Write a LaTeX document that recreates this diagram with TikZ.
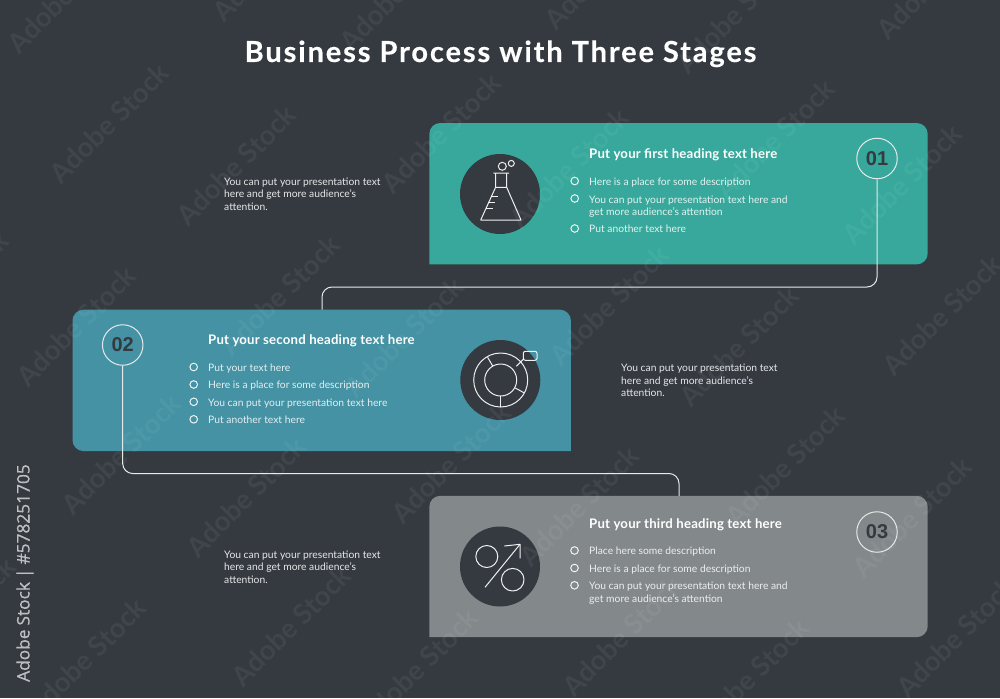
\documentclass[tikz,border=0pt]{standalone}
\usepackage{fontspec}
\setmainfont{Lato}
\newfontfamily\stockfont[WordSpace=0.9,FakeBold=0.35]{Open Sans}
\newfontfamily\numfont{Liberation Sans}
\definecolor{bgdark}{HTML}{353A41}
\definecolor{cardteal}{HTML}{37A89B}
\definecolor{cardblue}{HTML}{4492A3}
\definecolor{cardgrey}{HTML}{83888A}
\definecolor{linelight}{HTML}{E6EAEA}
\tikzset{
  x=1pt,y=-1pt,
  cardbox/.style={minimum width=498.4pt,minimum height=141.4pt,inner sep=0pt,outer sep=0pt},
  badge/.style={circle,draw=linelight,line width=1pt,minimum size=40.5pt,inner sep=0pt,text=bgdark,font=\numfont\bfseries\fontsize{20}{20}\selectfont},
  iconbg/.style={circle,fill=bgdark,minimum size=80pt,inner sep=0pt},
  heading/.style={anchor=base west,inner sep=0pt,yshift=-.4pt,text=white,font=\bfseries\fontsize{13.2}{15}\selectfont\addfontfeature{LetterSpace=1.5}},
  bodytext/.style={anchor=base west,inner sep=0pt,yshift=-.8pt,text=white,opacity=.86,align=left,font=\fontsize{10.3}{12.7}\selectfont},
  paratext/.style={bodytext,anchor=west,yshift=-.3pt},
  sidetext/.style={anchor=west,inner sep=0pt,text=white,opacity=.88,align=left,font=\fontsize{10.3}{12.6}\selectfont},
  bulletmark/.style={circle,draw=white,opacity=.9,line width=1pt,minimum size=7.6pt,inner sep=0pt},
  linkline/.style={draw=linelight,line width=1pt,rounded corners=10pt},
  iconline/.style={draw=white,opacity=.92,line width=1pt,line join=round},
  wmark/.style={rotate=45,text=white,opacity=.055,inner sep=0pt,font=\bfseries\fontsize{27.5}{27.5}\selectfont},
}
\begin{document}
\begin{tikzpicture}
\useasboundingbox (0,0) rectangle (1000,698);
\fill[bgdark] (0,0) rectangle (1000,698);

% cards
\node[cardbox] (card1) at (678.5,193.7) {};
\node[cardbox] (card2) at (321.7,380.4) {};
\node[cardbox] (card3) at (678.5,566.5) {};
\fill[cardteal] (card1.south west) [rounded corners=11pt] -- (card1.north west) -- (card1.north east) -- (card1.south east) [sharp corners] -- cycle;
\fill[cardblue] (card2.south east) [rounded corners=11pt] -- (card2.north east) -- (card2.north west) -- (card2.south west) [sharp corners] -- cycle;
\fill[cardgrey] (card3.south west) [rounded corners=11pt] -- (card3.north west) -- (card3.north east) -- (card3.south east) [sharp corners] -- cycle;

% badges
\node[badge] (b1) at (877,158.5) {01};
\node[badge] (b2) at (122.7,345) {02};
\node[badge] (b3) at (877,532) {03};

% connectors
\coordinate (c2top) at (322,309.7);
\coordinate (c3top) at (679,495.8);
\draw[linkline] (b1.south) |- (c2top |- 0,287) -- (c2top);
\draw[linkline] (b2.south) |- (c3top |- 0,473.5) -- (c3top);

% icon discs
\node[iconbg] (i1) at (500,194) {};
\node[iconbg] (i2) at (500.3,380) {};
\node[iconbg] (i3) at (500,566.5) {};

% flask
\draw[iconline] (502.3,166.3) circle[radius=4];
\draw[iconline] (511.3,163.4) circle[radius=3];
\draw[iconline] (493.3,173) -- (509,173) (495.6,173) -- (495.6,187.3) -- (480.7,220) -- (521,220) -- (506.7,187.3) -- (506.7,173) (495.6,187.3) -- (506.7,187.3);
\draw[iconline] (491.3,196.7) -- (497.7,196.7) (488.8,202.3) -- (495,202.3) (486,208.7) -- (492.7,208.7);

% chart
\draw[iconline] (500.7,380) circle[radius=27];
\draw[iconline] (500.7,380) circle[radius=16];
\draw[iconline] (500.7,396) -- (500.7,407);
\draw[iconline] (487.6,357.3) -- (492.7,366) (515.3,388) -- (524,392.8);
\draw[iconline] (516.3,366.3) -- (524,358.7);
\draw[iconline,rounded corners=2pt] (523.3,351.3) rectangle (537,360.3);

% percent
\draw[iconline] (486.8,556.5) circle[radius=11];
\draw[iconline] (512.7,579.7) circle[radius=11.3];
\draw[iconline] (485,587.3) -- (520,544.3);
\draw[iconline] (504.3,546) -- (520,544.3) -- (520,558.3);

% title
\node[anchor=base,inner sep=0pt,text=white,font=\bfseries\fontsize{29}{30}\selectfont\addfontfeature{LetterSpace=6.5,FakeBold=0.3}] (title) at (500.5,62) {Business Process with Three Stages};

% card 1 text
\node[heading] (h1) at (589,157.7) {Put your first heading text here};
\node[bulletmark] (p11) at (574.7,181) {};
\node[bodytext] (t11) at (589,184.4) {Here is a place for some description};
\node[bulletmark] (p12) at (574.7,198.5) {};
\node[paratext] (t12) at (589,205.5) {You can put your presentation text here and\\get more audience's attention};
\node[bulletmark] (p13) at (574.7,228.5) {};
\node[bodytext] (t13) at (589,231.9) {Put another text here};

% card 2 text
\node[heading] (h2) at (208,343.7) {Put your second heading text here};
\node[bulletmark] (p21) at (193.7,367) {};
\node[bodytext] (t21) at (208,370.4) {Put your text here};
\node[bulletmark] (p22) at (193.7,384.5) {};
\node[bodytext] (t22) at (208,387.9) {Here is a place for some description};
\node[bulletmark] (p23) at (193.7,401.8) {};
\node[bodytext] (t23) at (208,405.2) {You can put your presentation text here};
\node[bulletmark] (p24) at (193.7,419.3) {};
\node[bodytext] (t24) at (208,422.7) {Put another text here};

% card 3 text
\node[heading] (h3) at (589,527.7) {Put your third heading text here};
\node[bulletmark] (p31) at (574.5,550.5) {};
\node[bodytext] (t31) at (589,553.9) {Place here some description};
\node[bulletmark] (p32) at (574.5,568) {};
\node[bodytext] (t32) at (589,571.4) {Here is a place for some description};
\node[bulletmark] (p33) at (574.5,585.3) {};
\node[paratext] (t33) at (589,592.3) {You can put your presentation text here and\\get more audience's attention};

% side texts
\node[sidetext] (s1) at (224,194) {You can put your presentation text\\here and get more audience's\\attention.};
\node[sidetext] (s2) at (621,380.5) {You can put your presentation text\\here and get more audience's\\attention.};
\node[sidetext] (s3) at (224,567) {You can put your presentation text\\here and get more audience's\\attention.};

% stock label
\node[rotate=90,anchor=base west,inner sep=0pt,text=white,opacity=.66,font=\stockfont\fontsize{17.3}{20}\selectfont] (stock) at (29.5,682) {Adobe Stock | \#578251705};

% watermark
\foreach \wx/\wy [count=\wi] in {67/-7,109/123,236/165,272/-39,441/133,399/-9,280/295,76/326,404/337,-51/291,
  604/-31,736/13,936/-21,775/139,569/168,902/184,609/305,739/346,942/315,-44/617,
  121/454,246/497,291/626,451/463,86/658,418/668,579/506,785/466,912/517,622/636,749/678,956/637}{
  \node[wmark] (wm\wi) at (\wx,\wy) {Adobe Stock};
}
\end{tikzpicture}
\end{document}
